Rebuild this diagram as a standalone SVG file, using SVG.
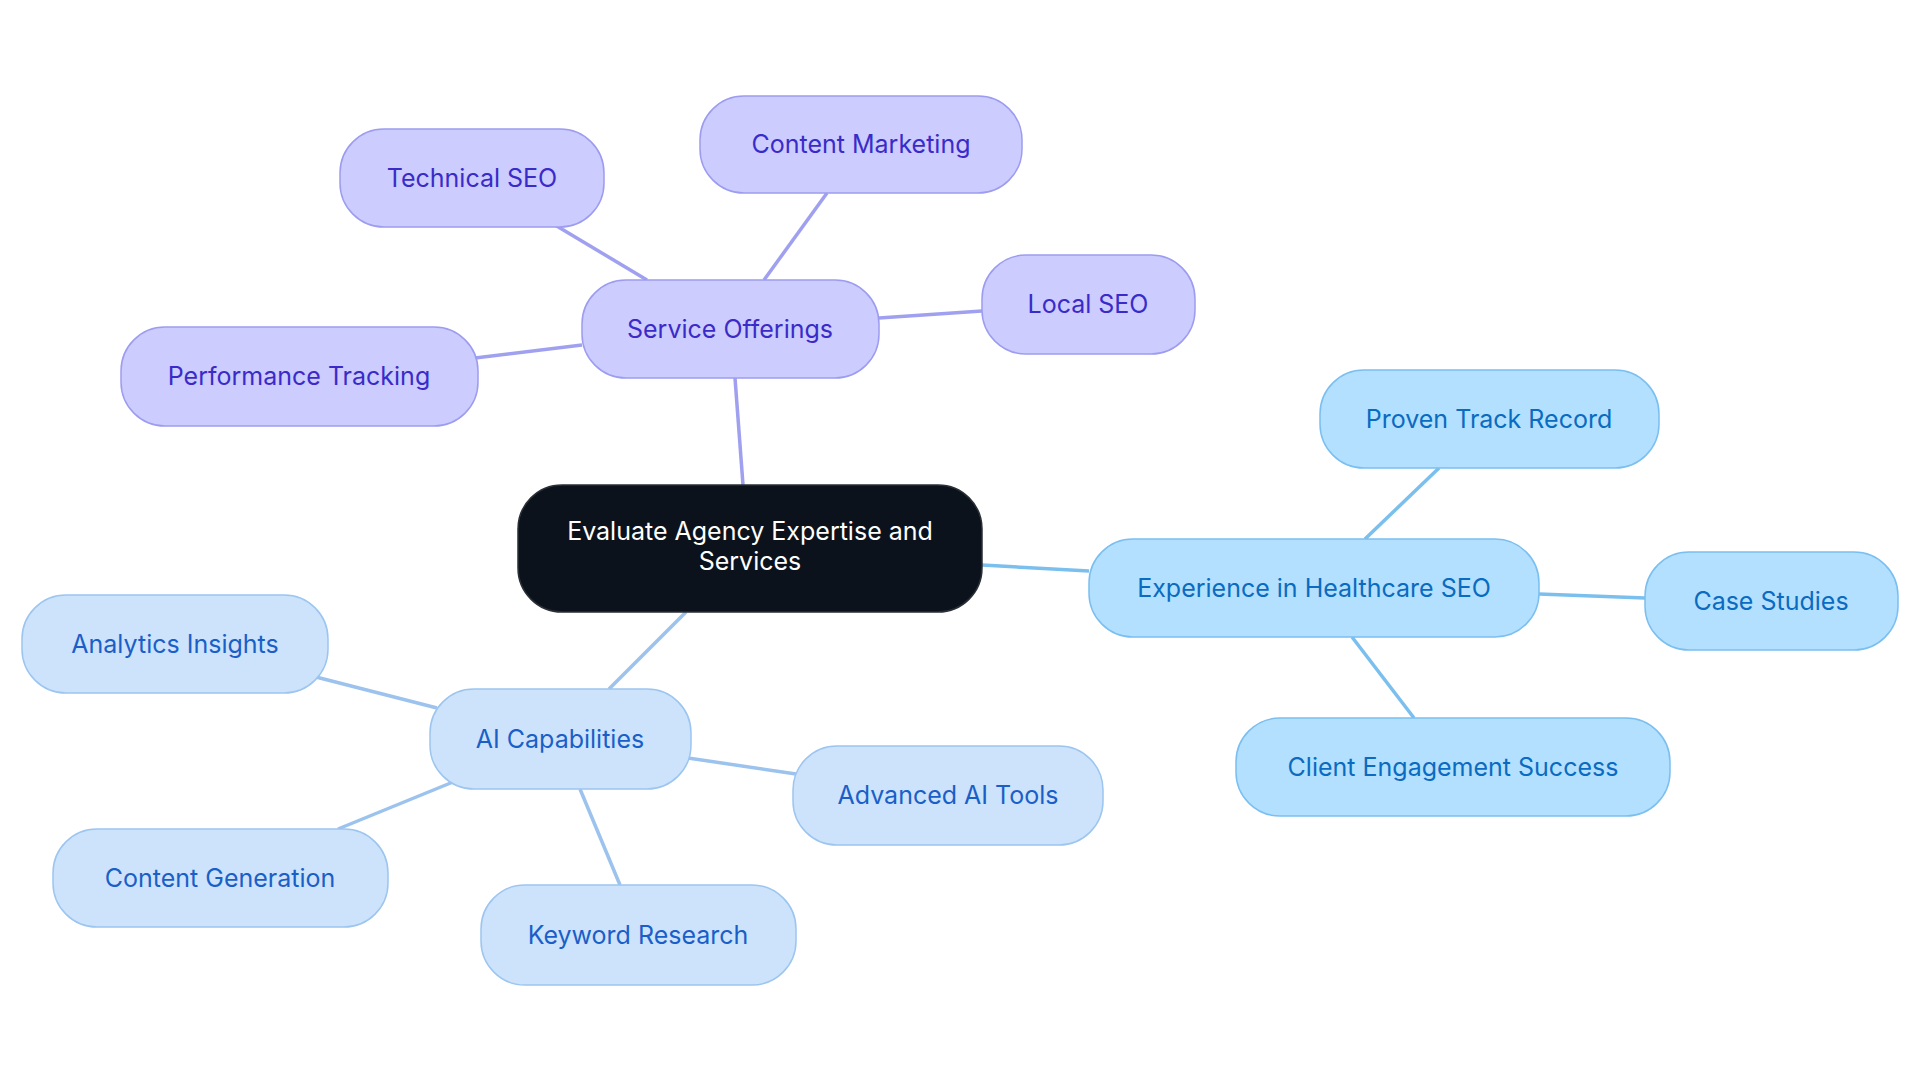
<svg xmlns="http://www.w3.org/2000/svg" width="1920" height="1083" viewBox="0 0 1920 1083">
<style>
text{font-family:Inter,"Liberation Sans",sans-serif;font-size:25px;text-anchor:middle;dominant-baseline:central}
.p rect{fill:#ccccff;stroke:#9c9cf0;stroke-width:1.5}.p text{fill:#3a2bc9}
.b rect{fill:#b3e0ff;stroke:#7bbff0;stroke-width:1.5}.b text{fill:#0a6bc0}
.l rect{fill:#cde3fb;stroke:#9cc5f0;stroke-width:1.5}.l text{fill:#1a5fc8}
.ep{stroke:#a0a0f0;stroke-width:3.5}.eb{stroke:#7bbfee;stroke-width:3.5}.el{stroke:#9cc2ee;stroke-width:3.5}
</style>
<rect width="1920" height="1083" fill="#fff"/>
<g id="connectors" fill="none">
<line class="ep" x1="743" y1="485" x2="735" y2="378"/>
<line class="ep" x1="647" y1="280" x2="555" y2="225"/>
<line class="ep" x1="764" y1="280" x2="827" y2="193"/>
<line class="ep" x1="879" y1="318" x2="982" y2="311"/>
<line class="ep" x1="582" y1="345" x2="475" y2="358"/>
<line class="eb" x1="982" y1="565" x2="1089" y2="571"/>
<line class="eb" x1="1365" y1="539" x2="1439" y2="468"/>
<line class="eb" x1="1539" y1="594" x2="1645" y2="598"/>
<line class="eb" x1="1352" y1="637" x2="1414" y2="718"/>
<line class="el" x1="686" y1="612" x2="609" y2="689"/>
<line class="el" x1="437" y1="708" x2="316" y2="677"/>
<line class="el" x1="688" y1="758" x2="796" y2="774"/>
<line class="el" x1="453" y1="782" x2="338" y2="829"/>
<line class="el" x1="580" y1="789" x2="620" y2="885"/>
</g>
<g id="center"><rect x="518" y="485" width="464" height="127" rx="44" fill="#0b121b" stroke="#2a2f36" stroke-width="1.5"/><text x="750" y="531" fill="#fff">Evaluate Agency Expertise and</text><text x="750" y="561" fill="#fff">Services</text></g>
<g id="service" class="p"><rect x="582" y="280" width="297" height="98" rx="44"/><text x="730" y="329">Service Offerings</text></g>
<g id="technical" class="p"><rect x="340" y="129" width="264" height="98" rx="44"/><text x="472" y="178">Technical SEO</text></g>
<g id="content-marketing" class="p"><rect x="700" y="96" width="322" height="97" rx="44"/><text x="861" y="144">Content Marketing</text></g>
<g id="local" class="p"><rect x="982" y="255" width="213" height="99" rx="44"/><text x="1088" y="304">Local SEO</text></g>
<g id="performance" class="p"><rect x="121" y="327" width="357" height="99" rx="44"/><text x="299" y="376">Performance Tracking</text></g>
<g id="experience" class="b"><rect x="1089" y="539" width="450" height="98" rx="44"/><text x="1314" y="588">Experience in Healthcare SEO</text></g>
<g id="proven" class="b"><rect x="1320" y="370" width="339" height="98" rx="44"/><text x="1489" y="419">Proven Track Record</text></g>
<g id="case" class="b"><rect x="1645" y="552" width="253" height="98" rx="44"/><text x="1771" y="601">Case Studies</text></g>
<g id="client" class="b"><rect x="1236" y="718" width="434" height="98" rx="44"/><text x="1453" y="767">Client Engagement Success</text></g>
<g id="ai" class="l"><rect x="430" y="689" width="261" height="100" rx="44"/><text x="560" y="739">AI Capabilities</text></g>
<g id="analytics" class="l"><rect x="22" y="595" width="306" height="98" rx="44"/><text x="175" y="644">Analytics Insights</text></g>
<g id="advanced" class="l"><rect x="793" y="746" width="310" height="99" rx="44"/><text x="948" y="795">Advanced AI Tools</text></g>
<g id="generation" class="l"><rect x="53" y="829" width="335" height="98" rx="44"/><text x="220" y="878">Content Generation</text></g>
<g id="keyword" class="l"><rect x="481" y="885" width="315" height="100" rx="44"/><text x="638" y="935">Keyword Research</text></g>
</svg>
